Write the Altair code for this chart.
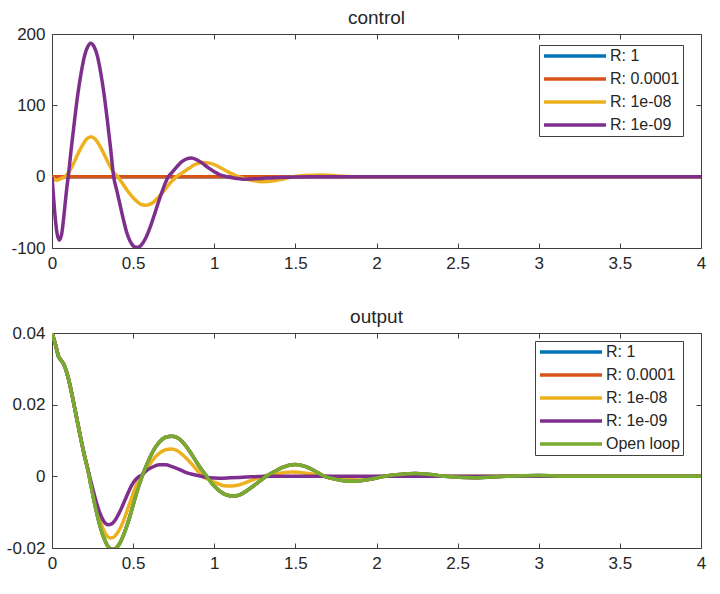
import altair as alt
import pandas as pd

FONT = "Liberation Sans"
TEXT = "#262626"
AX = "#404040"

SERIES_CTRL = ["R: 1", "R: 0.0001", "R: 1e-08", "R: 1e-09"]
SERIES_OUT = ["R: 1", "R: 0.0001", "R: 1e-08", "R: 1e-09", "Open loop"]
COLORS = ["#0072BD", "#D95319", "#EDB120", "#7E2F8E", "#77AC30"]

X_TICKS = [0, 0.5, 1, 1.5, 2, 2.5, 3, 3.5, 4]
CTRL_Y_TICKS = [-100, 0, 100, 200]
OUT_Y_TICKS = [-0.02, 0, 0.02, 0.04]

# ---------------- control panel ----------------
ctrl_r1_t = [0, 4]
ctrl_r1_v = [0, 0]
ctrl_r4_t = [0, 4]
ctrl_r4_v = [0, 0]

ctrl_r8_t = [0, 0.015, 0.03, 0.05, 0.08, 0.10, 0.13, 0.16, 0.19, 0.215, 0.24, 0.265,
             0.29, 0.32, 0.35, 0.38, 0.405, 0.43, 0.46, 0.49, 0.52, 0.55, 0.575, 0.60,
             0.63, 0.66, 0.69, 0.72, 0.745, 0.768, 0.80, 0.84, 0.88, 0.93, 0.97, 1.01,
             1.05, 1.10, 1.148, 1.19, 1.24, 1.30, 1.36, 1.42, 1.486, 1.56, 1.65, 1.73,
             1.82, 1.9, 4.0]
ctrl_r8_v = [0, -4, -5, -3, 0, 5, 17, 32, 45, 53, 56, 53,
             45, 32, 18, 6, 0, -8, -18, -27, -34, -39, -40, -39,
             -35, -28, -20, -11, -5, 0, 5, 11, 17, 20, 19, 16,
             11, 5, 0, -3, -5.5, -7, -6, -3.5, 0, 1.5, 2.5, 1.5,
             0.3, 0, 0]

ctrl_r9_t = [0, 0.01, 0.02, 0.03, 0.045, 0.06, 0.07, 0.08, 0.09, 0.10, 0.12, 0.14,
             0.16, 0.18, 0.20, 0.22, 0.238, 0.26, 0.28, 0.30, 0.32, 0.34, 0.36, 0.38,
             0.40, 0.42, 0.44, 0.46, 0.48, 0.50, 0.52, 0.54, 0.56, 0.58, 0.60, 0.62,
             0.64, 0.66, 0.68, 0.70, 0.717, 0.74, 0.77, 0.80, 0.83, 0.86, 0.89, 0.92,
             0.96, 1.00, 1.04, 1.077, 1.12, 1.18, 1.25, 1.32, 1.4, 1.5, 1.6, 4.0]
ctrl_r9_v = [0, -30, -58, -78, -89, -80, -62, -40, -18, 0, 42, 81,
             117, 146, 169, 182, 187, 182, 169, 146, 117, 81, 42, 0,
             -20, -40, -60, -78, -90, -97, -99, -98, -93, -85, -74, -61,
             -47, -33, -20, -8, 0, 6, 14, 21, 25, 26, 24, 20,
             13, 7, 2, 0, -2, -3.5, -3, -2, -1, -0.3, 0, 0]

# ---------------- output panel ----------------
out_open_t = [0, 0.02, 0.04, 0.06, 0.08, 0.10, 0.12, 0.14, 0.16, 0.18, 0.20, 0.22,
              0.24, 0.26, 0.28, 0.30, 0.32, 0.34, 0.36, 0.38, 0.40, 0.42, 0.44, 0.46,
              0.48, 0.50, 0.52, 0.555, 0.58, 0.62, 0.66, 0.70, 0.74, 0.78, 0.82, 0.86,
              0.90, 0.953, 0.99, 1.03, 1.07, 1.117, 1.16, 1.20, 1.25, 1.32, 1.37, 1.42,
              1.498, 1.56, 1.62, 1.68, 1.75, 1.86, 1.95, 2.05, 2.14, 2.24, 2.33, 2.42,
              2.6, 2.8, 3.0, 3.2, 4.0]
out_open_v = [0.040, 0.037, 0.0335, 0.0322, 0.0305, 0.0275, 0.0235, 0.0190, 0.0145, 0.0100, 0.0058, 0.0020,
              -0.0025, -0.0070, -0.0110, -0.0145, -0.0172, -0.0192, -0.0202, -0.0204, -0.0198, -0.0185, -0.0165, -0.0140,
              -0.0112, -0.0080, -0.0048, 0.0, 0.0028, 0.0068, 0.0095, 0.0109, 0.0112, 0.0106, 0.0088, 0.0062,
              0.0033, 0.0, -0.0022, -0.0040, -0.0051, -0.0055, -0.0051, -0.0040, -0.0024, 0.0, 0.0013, 0.0025,
              0.0033, 0.0028, 0.0015, 0.0, -0.0008, -0.0014, -0.0009, 0.0, 0.0005, 0.0008, 0.0005, 0.0,
              -0.0004, 0.0, 0.0002, 0.0, 0.0]

out_r8_t = [0, 0.02, 0.04, 0.06, 0.08, 0.10, 0.12, 0.14, 0.16, 0.18, 0.20, 0.22,
            0.24, 0.26, 0.28, 0.30, 0.32, 0.34, 0.36, 0.38, 0.40, 0.42, 0.44, 0.46,
            0.48, 0.50, 0.52, 0.555, 0.58, 0.62, 0.66, 0.70, 0.735, 0.77, 0.81, 0.85,
            0.89, 0.93, 0.97, 1.02, 1.06, 1.10, 1.15, 1.20, 1.25, 1.30, 1.38, 1.48,
            1.58, 1.68, 1.8, 1.95, 2.1, 4.0]
out_r8_v = [0.040, 0.037, 0.0335, 0.0322, 0.0305, 0.0275, 0.0235, 0.0190, 0.0145, 0.0100, 0.0058, 0.0020,
            -0.0022, -0.0062, -0.0098, -0.0128, -0.0152, -0.0167, -0.0172, -0.0170, -0.0160, -0.0145, -0.0125, -0.0100,
            -0.0074, -0.0048, -0.0024, 0.0, 0.0018, 0.0045, 0.0064, 0.0074, 0.0076, 0.0072, 0.0058, 0.0040,
            0.0019, 0.0, -0.0010, -0.0020, -0.0026, -0.0027, -0.0024, -0.0016, -0.0008, 0.0, 0.0007, 0.0012,
            0.0008, 0.0001, -0.0003, -0.0001, 0.0, 0.0]

out_r9_t = [0, 0.02, 0.04, 0.06, 0.08, 0.10, 0.12, 0.14, 0.16, 0.18, 0.20, 0.22,
            0.24, 0.26, 0.28, 0.30, 0.32, 0.345, 0.37, 0.39, 0.41, 0.43, 0.45, 0.47,
            0.49, 0.51, 0.53, 0.555, 0.58, 0.62, 0.66, 0.70, 0.74, 0.78, 0.82, 0.87,
            0.92, 0.97, 1.03, 1.1, 1.2, 1.35, 4.0]
out_r9_v = [0.040, 0.037, 0.0335, 0.0322, 0.0305, 0.0275, 0.0235, 0.0190, 0.0145, 0.0100, 0.0058, 0.0022,
            -0.0015, -0.0050, -0.0082, -0.0108, -0.0126, -0.0135, -0.0132, -0.0122, -0.0106, -0.0087, -0.0066, -0.0045,
            -0.0026, -0.0012, -0.0003, 0.0004, 0.0015, 0.0026, 0.0032, 0.0032, 0.0027, 0.0020, 0.0012, 0.0005,
            0.0, -0.0004, -0.0005, -0.0004, -0.0002, 0.0, 0.0]

# R: 1 and R: 0.0001 outputs coincide with the open-loop response (hidden beneath it)
out_r1_t, out_r1_v = out_open_t, out_open_v
out_r4_t, out_r4_v = out_open_t, out_open_v


def long_frame(names, ts, vs):
    rows = []
    for name, t_list, v_list in zip(names, ts, vs):
        for t, v in zip(t_list, v_list):
            rows.append({"series": name, "t": t, "v": v})
    return pd.DataFrame(rows)


ctrl_df = long_frame(SERIES_CTRL,
                     [ctrl_r1_t, ctrl_r4_t, ctrl_r8_t, ctrl_r9_t],
                     [ctrl_r1_v, ctrl_r4_v, ctrl_r8_v, ctrl_r9_v])
out_df = long_frame(SERIES_OUT,
                    [out_r1_t, out_r4_t, out_r8_t, out_r9_t, out_open_t],
                    [out_r1_v, out_r4_v, out_r8_v, out_r9_v, out_open_v])


def axis(orient, values, labels, pad):
    return alt.Axis(orient=orient, values=values, labels=labels, domain=False, grid=False,
                    ticks=True, tickSize=5, offset=-5, tickColor=AX, tickWidth=1,
                    labelFont=FONT, labelFontSize=17, labelColor=TEXT, labelFlush=False,
                    labelPadding=pad, labelExpr="toString(datum.value)")


def panel(df, title, ydomain, yticks, names, colors, lx, ly, height, row_pad):
    xs = alt.Scale(domain=[0, 4], nice=False, zero=False)
    ys = alt.Scale(domain=ydomain, nice=False, zero=False)
    lines = alt.Chart(df).mark_line(strokeWidth=3.5, interpolate="monotone", clip=True).encode(
        x=alt.X("t:Q", scale=xs, title=None, axis=axis("bottom", X_TICKS, True, 7)),
        y=alt.Y("v:Q", scale=ys, title=None, axis=axis("left", yticks, True, 7)),
        color=alt.Color("series:N", title=None,
                        scale=alt.Scale(domain=names, range=colors),
                        legend=alt.Legend(orient="none", legendX=lx, legendY=ly,
                                          symbolType="M-3,0H28", symbolSize=16,
                                          symbolStrokeWidth=3.5, labelFont=FONT,
                                          labelFontSize=16, labelColor=TEXT,
                                          labelOffset=52, padding=3, rowPadding=row_pad,
                                          strokeColor=AX, fillColor="white",
                                          cornerRadius=0)),
    )
    frame = alt.Chart(df).mark_line(opacity=0).encode(
        x=alt.X("t:Q", scale=xs, title=None, axis=axis("top", X_TICKS, False, 7)),
        y=alt.Y("v:Q", scale=ys, title=None, axis=axis("right", yticks, False, 7)),
        detail="series:N",
    )
    return alt.layer(lines, frame).resolve_axis(x="independent", y="independent").properties(
        width=649, height=height,
        title=alt.TitleParams(title, font=FONT, fontSize=19, fontWeight="normal",
                              color=TEXT, offset=-3, anchor="middle"),
    )


top = panel(ctrl_df, "control", [-100, 200], CTRL_Y_TICKS, SERIES_CTRL, COLORS[:4], 487, 11, 214, 7)
bottom = panel(out_df, "output", [-0.02, 0.04], OUT_Y_TICKS, SERIES_OUT, COLORS, 483, 8, 215, 7)

chart = alt.vconcat(top, bottom, spacing=35).resolve_scale(color="independent").properties(
    padding={"left": 5, "top": 8, "right": 6, "bottom": 5},
    background="white",
).configure_view(stroke=AX, strokeWidth=1)

chart.save("out.html", embed_options={"renderer": "svg", "actions": False})
